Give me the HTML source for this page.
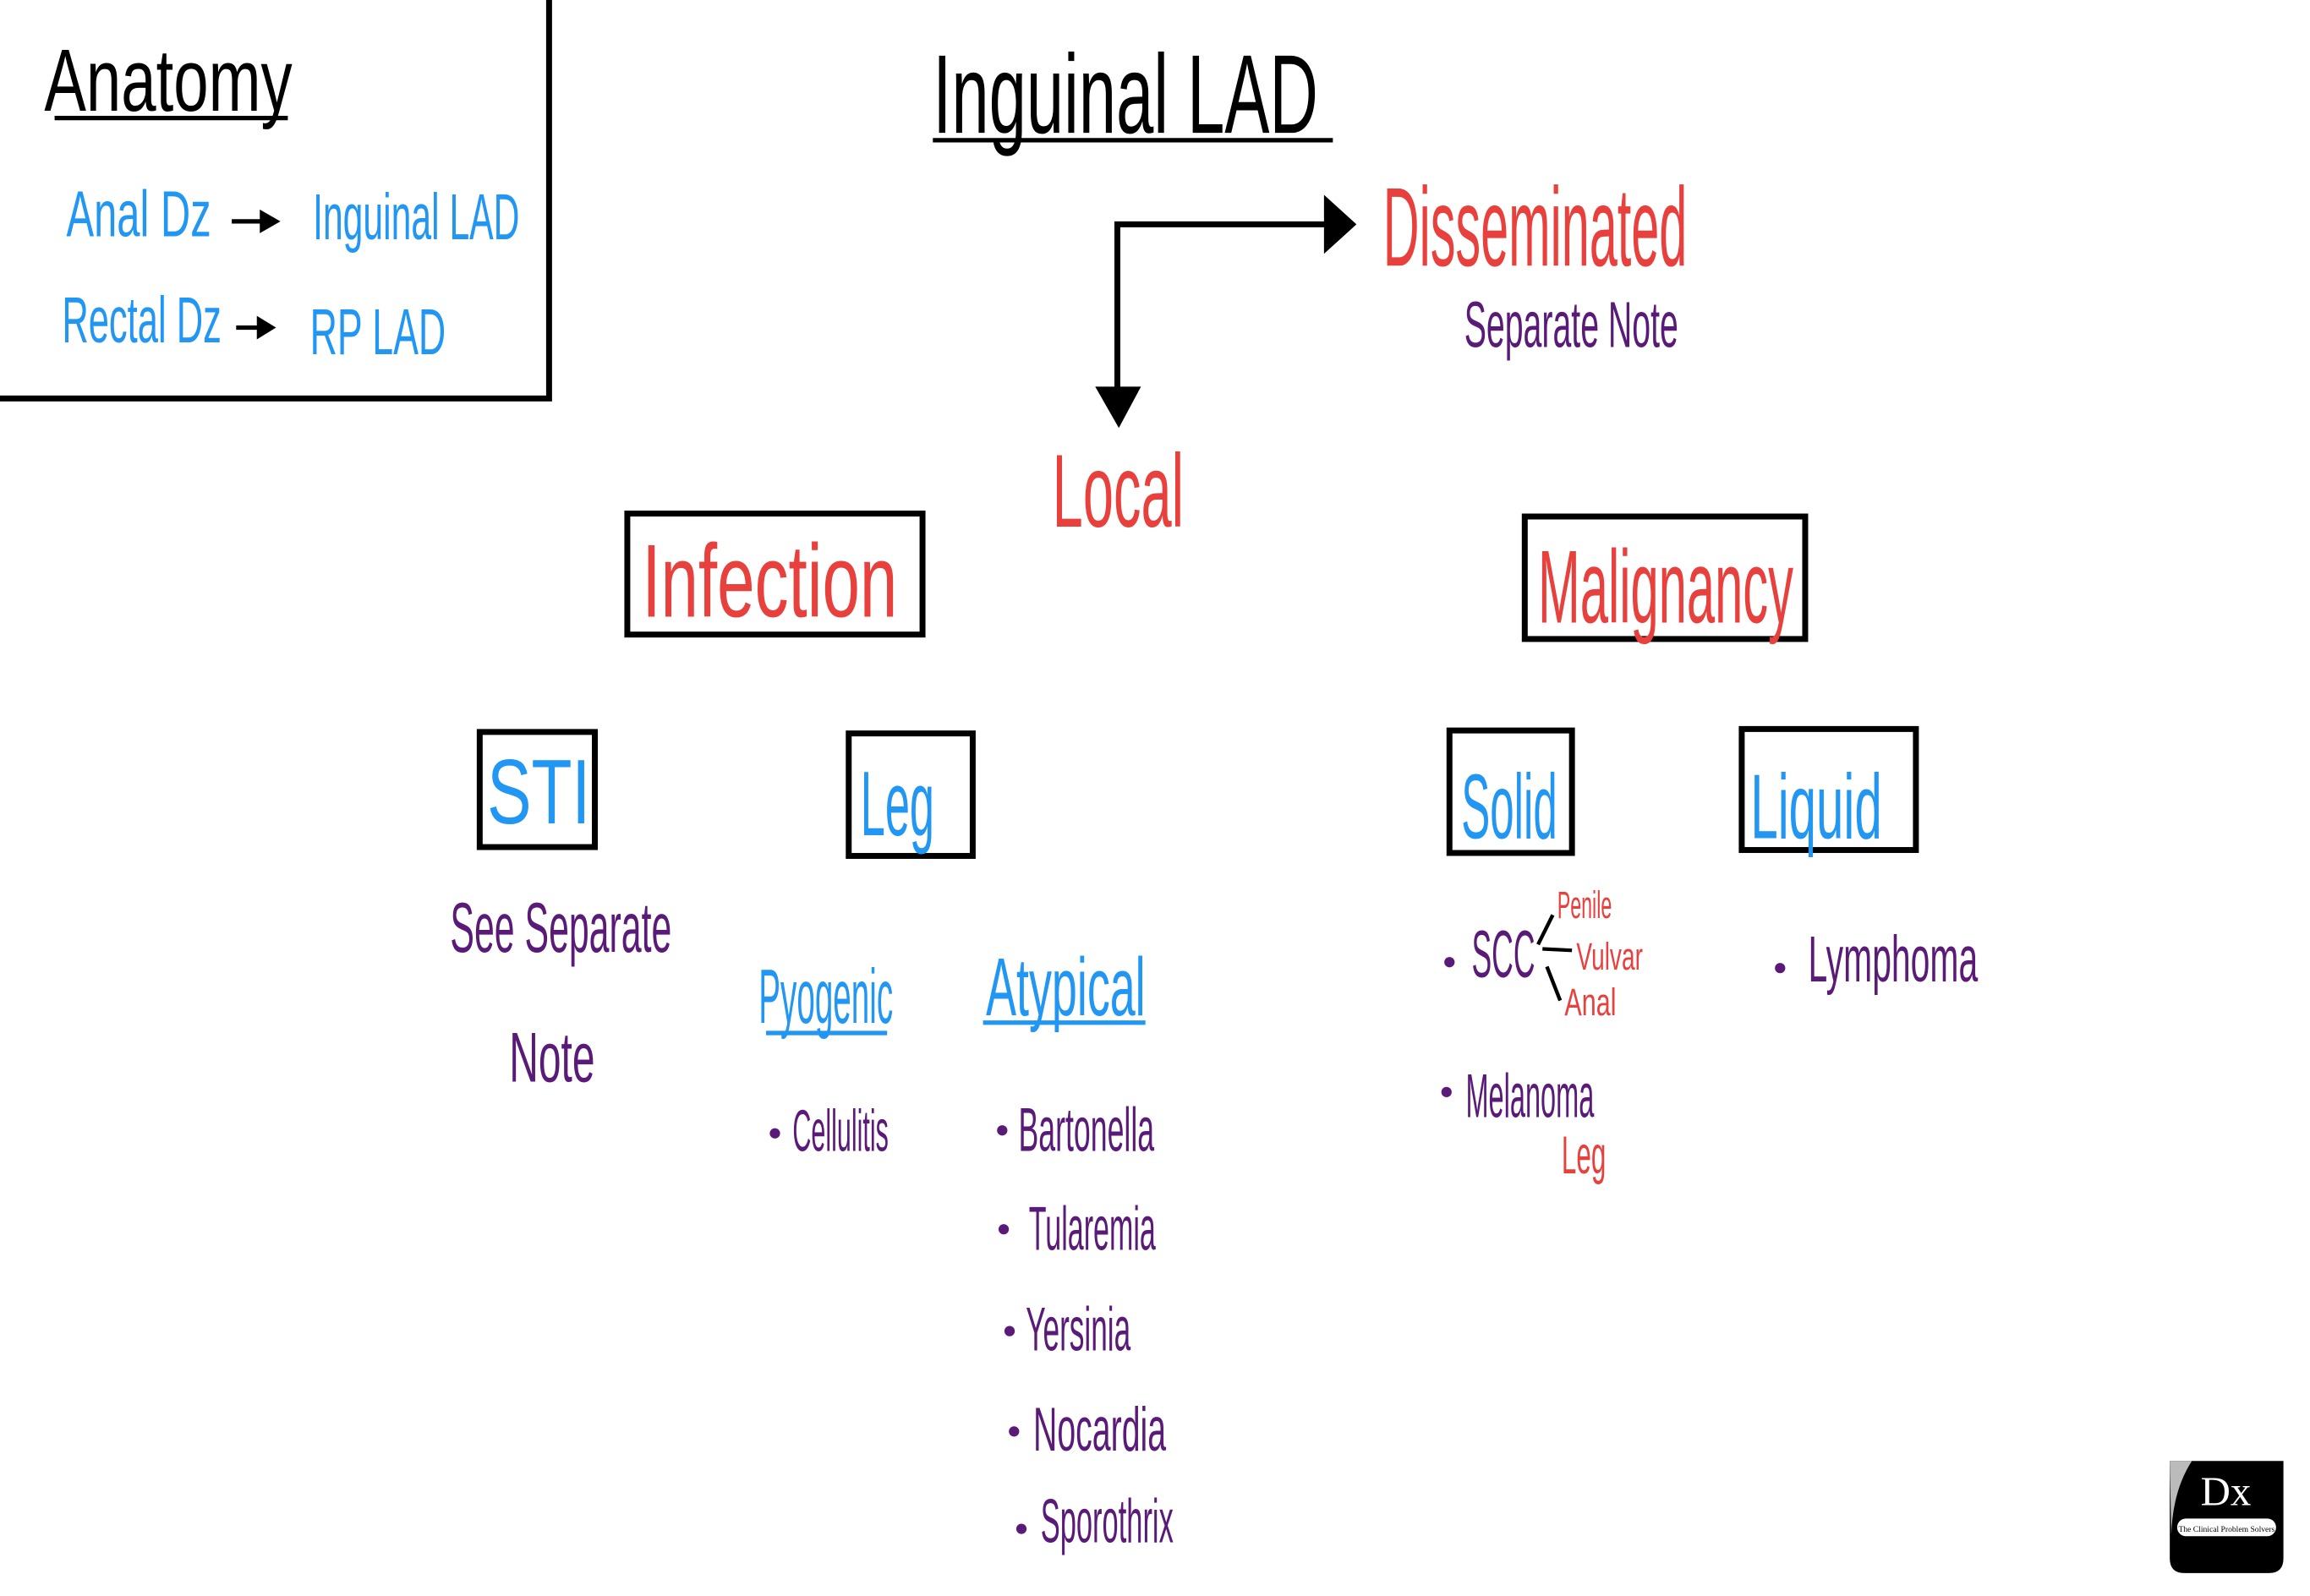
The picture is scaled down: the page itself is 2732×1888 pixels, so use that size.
<!DOCTYPE html>
<html><head><meta charset="utf-8"><style>
html,body{margin:0;padding:0;background:#fff;}
svg{display:block;}
text{font-family:"Liberation Sans Narrow","Liberation Sans",sans-serif;}
.b{fill:#2196f3}.r{fill:#e8403c}.p{fill:#5a1a78}.k{fill:#000}
</style></head><body>
<svg width="2732" height="1888" viewBox="0 0 1565 1081.5" xmlns="http://www.w3.org/2000/svg">
<rect x="0" y="0" width="1565" height="1082" fill="#fff"/>
<path d="M372 0 V270 H0" fill="none" stroke="#000" stroke-width="4"/>
<text x="30" y="75" font-size="60" class="k" textLength="168" lengthAdjust="spacingAndGlyphs">Anatomy</text>
<line x1="37" y1="80" x2="195" y2="80" stroke="#000" stroke-width="3"/>
<text x="45" y="160" font-size="44" class="b" textLength="98" lengthAdjust="spacingAndGlyphs">Anal Dz</text>
<line x1="157" y1="150" x2="178" y2="150" stroke="#000" stroke-width="3"/><polygon points="176,142 190,150 176,158" fill="#000"/>
<text x="212" y="162" font-size="44" class="b" textLength="140" lengthAdjust="spacingAndGlyphs">Inguinal LAD</text>
<text x="42" y="232" font-size="44" class="b" textLength="108" lengthAdjust="spacingAndGlyphs">Rectal Dz</text>
<line x1="160" y1="222" x2="176" y2="222" stroke="#000" stroke-width="3"/><polygon points="174,214 187,222 174,230" fill="#000"/>
<text x="210" y="240" font-size="44" class="b" textLength="92" lengthAdjust="spacingAndGlyphs">RP LAD</text>
<text x="632" y="90" font-size="76" class="k" textLength="261" lengthAdjust="spacingAndGlyphs">Inguinal LAD</text>
<line x1="632" y1="95" x2="903" y2="95" stroke="#000" stroke-width="3"/>
<path d="M757 268 V152 H900" fill="none" stroke="#000" stroke-width="4"/>
<polygon points="742,262 773,262 758,290" fill="#000"/>
<polygon points="897,132 919,152 897,172" fill="#000"/>
<text x="937" y="180" font-size="76" class="r" textLength="206" lengthAdjust="spacingAndGlyphs">Disseminated</text>
<text x="992" y="235" font-size="44" class="p" textLength="145" lengthAdjust="spacingAndGlyphs">Separate Note</text>
<text x="713" y="357" font-size="70" class="r" textLength="89" lengthAdjust="spacingAndGlyphs">Local</text>
<g fill="none" stroke="#000" stroke-width="4">
<rect x="425" y="348" width="200" height="82"/>
<rect x="1033" y="350" width="190" height="83"/>
<rect x="325" y="496" width="78" height="78"/>
<rect x="575" y="497" width="84" height="83"/>
<rect x="982" y="495" width="83" height="83"/>
<rect x="1180" y="494" width="118" height="82"/>
</g>
<text x="435" y="418" font-size="70" class="r" textLength="173" lengthAdjust="spacingAndGlyphs">Infection</text>
<text x="1042" y="422" font-size="70" class="r" textLength="173" lengthAdjust="spacingAndGlyphs">Malignancy</text>
<text x="330" y="558" font-size="62" class="b" textLength="70" lengthAdjust="spacingAndGlyphs">STI</text>
<text x="583" y="566" font-size="62" class="b" textLength="50" lengthAdjust="spacingAndGlyphs">Leg</text>
<text x="990" y="568" font-size="62" class="b" textLength="65" lengthAdjust="spacingAndGlyphs">Solid</text>
<text x="1186" y="568" font-size="62" class="b" textLength="89" lengthAdjust="spacingAndGlyphs">Liquid</text>
<text x="305" y="645" font-size="48" class="p" textLength="150" lengthAdjust="spacingAndGlyphs">See Separate</text>
<text x="345" y="733" font-size="48" class="p" textLength="58" lengthAdjust="spacingAndGlyphs">Note</text>
<text x="514" y="693" font-size="52" class="b" textLength="91" lengthAdjust="spacingAndGlyphs">Pyogenic</text>
<line x1="519" y1="700" x2="601" y2="700" stroke="#2196f3" stroke-width="3"/>
<text x="668" y="688" font-size="56" class="b" textLength="108" lengthAdjust="spacingAndGlyphs">Atypical</text>
<line x1="666" y1="693" x2="776" y2="693" stroke="#2196f3" stroke-width="3"/>
<g class="p">
<circle cx="525" cy="768" r="3.5"/>
<text x="537" y="780" font-size="40" textLength="65" lengthAdjust="spacingAndGlyphs">Cellulitis</text>
<circle cx="679" cy="766" r="3.5"/>
<text x="690" y="780" font-size="42" textLength="92" lengthAdjust="spacingAndGlyphs">Bartonella</text>
<circle cx="680" cy="833" r="3.5"/>
<text x="697" y="847" font-size="42" textLength="86" lengthAdjust="spacingAndGlyphs">Tularemia</text>
<circle cx="684" cy="902" r="3.5"/>
<text x="695" y="915" font-size="42" textLength="71" lengthAdjust="spacingAndGlyphs">Yersinia</text>
<circle cx="687" cy="970" r="3.5"/>
<text x="700" y="983" font-size="42" textLength="90" lengthAdjust="spacingAndGlyphs">Nocardia</text>
<circle cx="692" cy="1036" r="3.5"/>
<text x="705" y="1045" font-size="42" textLength="90" lengthAdjust="spacingAndGlyphs">Sporothrix</text>
<circle cx="982" cy="652" r="3.5"/>
<text x="997" y="662" font-size="45" textLength="43" lengthAdjust="spacingAndGlyphs">SCC</text>
<circle cx="980" cy="740" r="3.5"/>
<text x="993" y="757" font-size="42" textLength="87" lengthAdjust="spacingAndGlyphs">Melanoma</text>
<circle cx="1206" cy="656" r="3.5"/>
<text x="1225" y="665" font-size="44" textLength="115" lengthAdjust="spacingAndGlyphs">Lymphoma</text>
</g>
<g stroke="#000" stroke-width="2.5">
<line x1="1042" y1="640" x2="1052" y2="620"/>
<line x1="1045" y1="643" x2="1065" y2="644"/>
<line x1="1048" y1="655" x2="1057" y2="678"/>
</g>
<g class="r">
<text x="1055" y="622" font-size="26" textLength="37" lengthAdjust="spacingAndGlyphs">Penile</text>
<text x="1068" y="657" font-size="26" textLength="45" lengthAdjust="spacingAndGlyphs">Vulvar</text>
<text x="1060" y="688" font-size="26" textLength="35" lengthAdjust="spacingAndGlyphs">Anal</text>
<text x="1058" y="795" font-size="36" textLength="30" lengthAdjust="spacingAndGlyphs">Leg</text>
</g>
<path d="M1480 990 H1547 V1056 Q1547 1066 1537 1066 H1480 Q1470 1066 1470 1056 V990 Z" fill="#000"/>
<path d="M1470 990 H1485 Q1472 1010 1471 1040 Z" fill="#bbb"/>
<text x="1508" y="1020" font-size="28" fill="#fff" text-anchor="middle" style="font-family:'Liberation Serif',serif">Dx</text>
<rect x="1475" y="1029" width="67" height="12" rx="6" fill="#fff"/>
<text x="1508.5" y="1038" font-size="5.5" fill="#000" text-anchor="middle" style="font-family:'Liberation Serif',serif">The Clinical Problem Solvers</text>
</svg>
</body></html>
